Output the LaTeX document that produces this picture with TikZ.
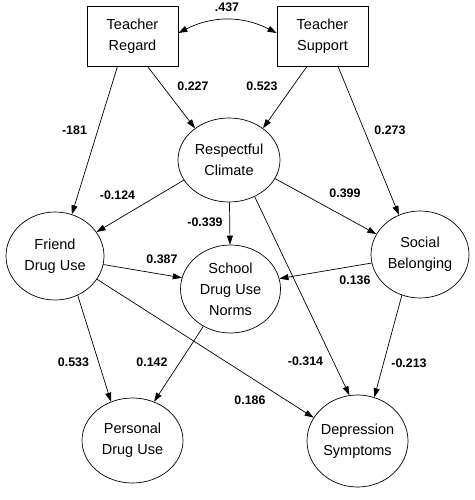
\documentclass[tikz,border=0pt]{standalone}
\usepackage{fontspec}
\setmainfont{Liberation Sans}
\usetikzlibrary{shapes.geometric,arrows.meta,calc}
\begin{document}
\begin{tikzpicture}[x=1pt,y=-1pt,
  txt/.style={align=center,font=\fontsize{14.5}{21}\selectfont},
  latent/.style={txt,draw,ellipse,inner sep=-2pt,line width=0.7pt},
  observed/.style={txt,draw,rectangle,minimum width=91pt,minimum height=60pt,inner sep=0pt,line width=0.7pt},
  arr/.style={line width=0.7pt,-{Triangle[length=9pt,width=6pt]}},
  dblarr/.style={line width=0.7pt,{Triangle[length=9pt,width=6pt]}-{Triangle[length=9pt,width=6pt]}},
  coef/.style={font=\bfseries\fontsize{12.4}{14}\selectfont,inner sep=0pt}]
\useasboundingbox (0,0) rectangle (474,500);

% observed variables
\node[observed] (TR) at (132.5,36) {Teacher\\Regard};
\node[observed] (TS) at (322.5,36) {Teacher\\Support};

% latent variables
\node[latent,minimum width=102pt,minimum height=84pt] (RC) at (229,160) {Respectful\\Climate};
\node[latent,minimum width=98pt,minimum height=88pt] (FDU) at (55,256) {Friend\\Drug Use};
\node[latent,minimum width=100pt,minimum height=88pt] (SDUN) at (230.5,289) {School\\Drug Use\\Norms};
\node[latent,minimum width=98pt,minimum height=87pt] (SB) at (420,254.5) {Social\\Belonging};
\node[latent,minimum width=101pt,minimum height=85pt] (PDU) at (132.5,440.5) {Personal\\Drug Use};
\node[latent,minimum width=101pt,minimum height=92pt] (DS) at (357.5,441) {Depression\\Symptoms};

% correlation
\draw[dblarr] ($(TR.east)+(0,-3)$) to[bend left=27] ($(TS.west)+(0,-3)$);

% paths
\draw[arr] ($(TR.south)+(-15,0)$) -- (FDU.68);
\draw[arr] ($(TR.south)+(15,0)$) -- (RC.137);
\draw[arr] ($(TS.south)+(-15.5,0)$) -- (RC.43);
\draw[arr] ($(TS.south)+(15.5,0)$) -- (SB.118);
\draw[arr] (RC.204) -- (FDU.30);
\draw[arr] (RC) -- (SDUN);
\draw[arr] (RC.338) -- (SB.155);
\draw[arr] (RC.305) -- (DS.100);
\draw[arr] (FDU.350) -- (SDUN.167);
\draw[arr] (FDU.331) -- (DS.152);
\draw[arr] (FDU.300) -- (PDU.119);
\draw[arr] (SB.190) -- (SDUN.12);
\draw[arr] (SB.246) -- (DS.69);
\draw[arr] (SDUN.234) -- (PDU.61);

% coefficients
\node[coef] (c1) at (227,7) {.437};
\node[coef] (c2) at (193,86) {0.227};
\node[coef] (c3) at (262,86) {0.523};
\node[coef] (c4) at (74.5,130) {-181};
\node[coef] (c5) at (390,130) {0.273};
\node[coef] (c6) at (117.5,195) {-0.124};
\node[coef] (c7) at (345,193) {0.399};
\node[coef] (c8) at (205,222) {-0.339};
\node[coef] (c9) at (162,259) {0.387};
\node[coef] (c10) at (355,280) {0.136};
\node[coef] (c11) at (73.5,362) {0.533};
\node[coef] (c12) at (152,362) {0.142};
\node[coef] (c13) at (305.5,361) {-0.314};
\node[coef] (c14) at (409,363) {-0.213};
\node[coef] (c15) at (250,400) {0.186};
\end{tikzpicture}
\end{document}
